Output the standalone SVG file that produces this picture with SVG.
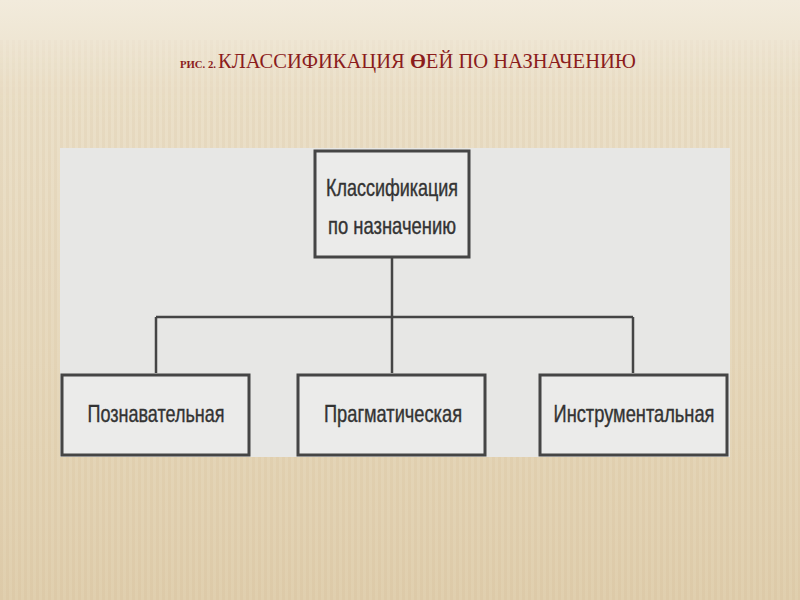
<svg xmlns="http://www.w3.org/2000/svg" width="800" height="600" viewBox="0 0 800 600">
<defs>
<linearGradient id="bg" x1="0" y1="0" x2="0" y2="1">
<stop offset="0" stop-color="#f2ebdc"/>
<stop offset="0.15" stop-color="#ebe0c9"/>
<stop offset="0.6" stop-color="#e6d8bc"/>
<stop offset="1" stop-color="#e0cfae"/>
</linearGradient>
<linearGradient id="fade" x1="0" y1="0" x2="0" y2="1">
<stop offset="0" stop-color="#fff" stop-opacity="0"/>
<stop offset="0.2" stop-color="#fff" stop-opacity="1"/>
<stop offset="1" stop-color="#fff" stop-opacity="1"/>
</linearGradient>
<mask id="m"><rect width="800" height="600" fill="url(#fade)"/></mask>
<pattern id="stripes" width="6" height="600" patternUnits="userSpaceOnUse">
<rect x="0" y="0" width="3" height="600" fill="#b89a66" opacity="0.08"/>
</pattern>
<style>
.box{fill:#ebebea;stroke:#454545;stroke-width:3}
.lbl{font-family:"Liberation Sans",Arial,sans-serif;font-size:24px;fill:#333;stroke:#333;stroke-width:0.4;text-anchor:middle}
.conn{fill:none;stroke:#454545;stroke-width:2.5}
</style>
</defs>
<rect width="800" height="600" fill="url(#bg)"/>
<rect y="40" width="800" height="560" fill="url(#stripes)" mask="url(#m)"/>
<text x="180" y="68" font-family="'Liberation Serif',serif" fill="#8b1c1c"><tspan font-size="11" font-weight="bold" textLength="36" lengthAdjust="spacingAndGlyphs">РИС. 2.</tspan><tspan x="218" font-size="20" textLength="418" lengthAdjust="spacingAndGlyphs">КЛАССИФИКАЦИЯ <tspan font-weight="bold">Ө</tspan>ЕЙ ПО НАЗНАЧЕНИЮ</tspan></text>
<rect id="panel" x="60" y="148" width="670" height="309" fill="#e7e7e5"/>
<g id="connectors">
<path class="conn" d="M392 257V373M156 317H633M156 317V373M633 317V373"/>
</g>
<g id="root">
<rect class="box" x="315" y="151" width="154" height="106"/>
<text class="lbl" x="392" y="196" textLength="132" lengthAdjust="spacingAndGlyphs">Классификация</text>
<text class="lbl" x="392" y="234" textLength="128" lengthAdjust="spacingAndGlyphs">по назначению</text>
</g>
<g id="n1">
<rect class="box" x="62" y="375" width="187" height="80"/>
<text class="lbl" x="156" y="422" textLength="137" lengthAdjust="spacingAndGlyphs">Познавательная</text>
</g>
<g id="n2">
<rect class="box" x="298" y="375" width="187" height="80"/>
<text class="lbl" x="393" y="422" textLength="138" lengthAdjust="spacingAndGlyphs">Прагматическая</text>
</g>
<g id="n3">
<rect class="box" x="540" y="375" width="187" height="80"/>
<text class="lbl" x="634" y="422" textLength="161" lengthAdjust="spacingAndGlyphs">Инструментальная</text>
</g>
</svg>
